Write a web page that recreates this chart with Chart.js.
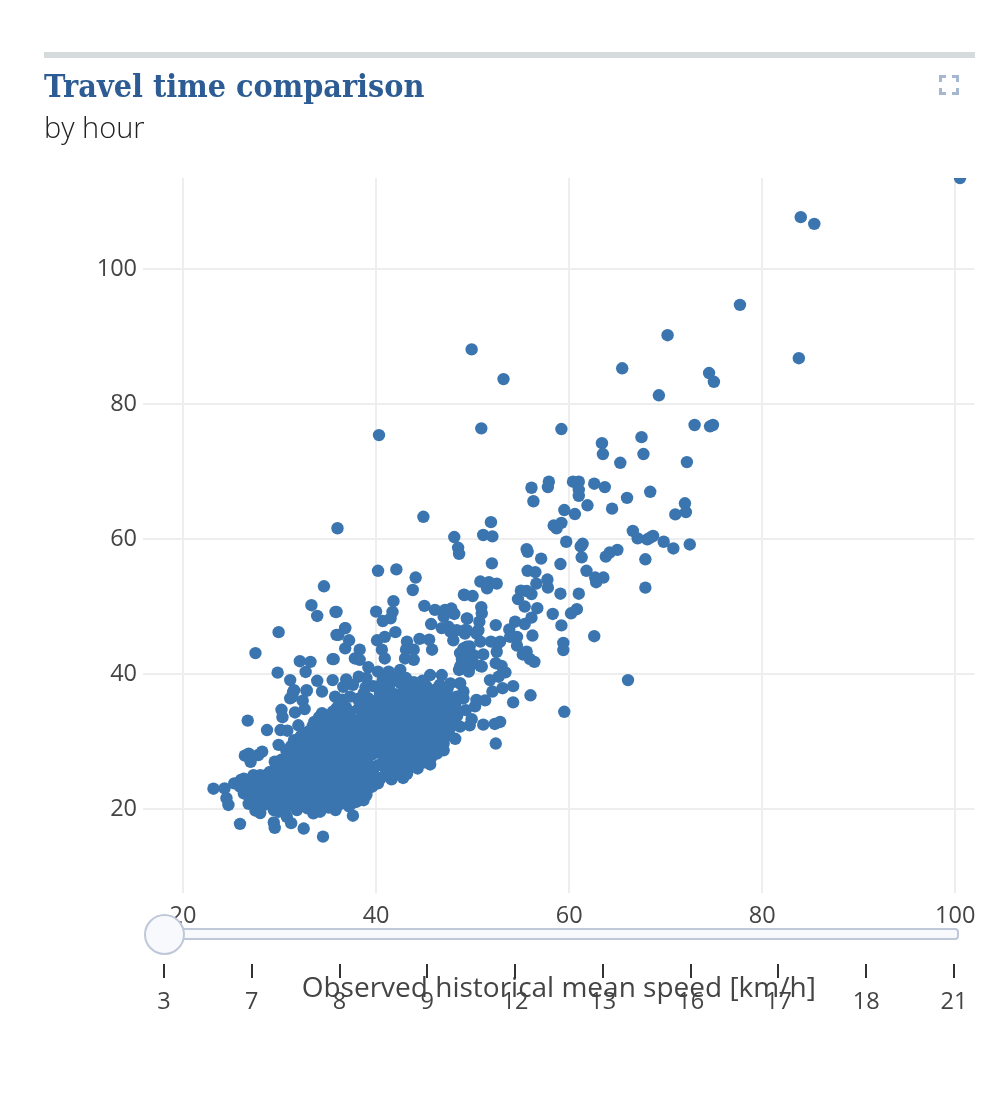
<!DOCTYPE html>
<html><head><meta charset="utf-8">
<script src="https://cdn.jsdelivr.net/npm/chart.js@4"></script>
<style>
html,body{margin:0;padding:0;background:#fff;width:1004px;height:1104px;overflow:hidden;position:relative}
#chart{position:absolute;left:0;top:0}
.topbar{position:absolute;left:44px;top:52px;width:931px;height:6px;background:#d5dadc}
.title{position:absolute;left:44px;top:67px;font:bold 32px "DejaVu Serif",serif;font-stretch:condensed;color:#2c5c93;white-space:nowrap}
.sub{position:absolute;left:44px;top:107px;font:300 29px "Open Sans",sans-serif;color:#222;white-space:nowrap}
.rail{position:absolute;left:160px;top:928px;width:799px;height:12px;box-sizing:border-box;background:#f8f9fc;border:2px solid #bec8d9;border-radius:4px}
.handle{position:absolute;left:143.5px;top:913.5px;width:41px;height:41px;box-sizing:border-box;background:#f8f9fc;border:2px solid #bec8d9;border-radius:50%}
.tk{position:absolute;top:964px;width:2px;height:14px;background:#333}
.tl{position:absolute;top:984px;width:60px;text-align:center;font:23.5px "Open Sans",sans-serif;color:#444}
svg{position:absolute;left:939px;top:75px}
</style></head><body>
<canvas id="chart" width="1004" height="1104"></canvas>
<div class="topbar"></div>
<div class="title">Travel time comparison</div>
<div class="sub">by hour</div>
<svg width="20" height="20" fill="none" stroke="#a6b8d0" stroke-width="3"><path d="M1.5 7V1.5H7M13 1.5H18.5V7M18.5 13V18.5H13M7 18.5H1.5V13"/></svg>
<div class="rail"></div>
<div id="slider"></div>
<div class="handle"></div>
<script>
const xAxisTitle = "Observed historical mean speed [km/h]";
const xTicks = [20,40,60,80,100];
const yTicks = [20,40,60,80,100];
const sliderHours = ["3","7","8","9","12","13","16","17","18","21"];

const pointsUpper = [[100.5,113.5],[84.0,107.7],[85.4,106.7],[77.7,94.7],[70.2,90.2],[65.5,85.3],[53.2,83.7],[49.9,88.1],[83.8,86.8],[74.5,84.6],[75.0,83.3],[69.3,81.3],[40.3,75.4],[50.9,76.4],[59.2,76.3],[63.4,74.2],[63.5,72.6],[67.5,75.1],[67.7,72.6],[65.3,71.3],[73.0,76.9],[74.6,76.7],[74.9,76.9],[72.2,71.4],
[56.1,67.6],[57.9,68.5],[57.8,67.7],[56.3,65.6],[60.4,68.5],[61.0,68.5],[61.0,67.3],[61.0,66.4],[62.6,68.2],[63.7,67.7],[68.4,67.0],[66.0,66.1],[64.45,64.5],[61.9,65.0],[60.6,63.7],[59.5,64.3],[59.2,62.4],[58.7,61.6],[58.4,62.0],[51.9,62.5],[51.1,60.6],[52.05,60.4],[72.0,65.3],[72.1,64.0],[71.0,63.65],[66.6,61.2],[67.1,60.1],[68.1,59.95],[68.7,60.45],[68.4,60.2],[69.8,59.6],[70.8,58.6],[72.5,59.2],[67.9,57.0],[67.9,52.8],[59.7,59.6],[61.4,59.3],[61.2,58.9],[61.3,57.3],[65.0,58.4],[64.2,58.0],[63.8,57.4],[55.6,58.5],[55.7,58.1],[57.1,57.1],[59.1,56.3],[52.0,56.4],[55.7,55.3],[56.5,55.1],[57.75,54.0],[56.6,53.4],[57.8,52.8],[61.8,55.3],[62.7,54.3],[63.55,54.3],[62.8,53.6],[59.1,51.9],[61.0,51.9],[50.8,53.7],[51.7,53.6],[51.5,52.7],[52.5,53.4],[49.15,51.7],[50.0,51.55],[55.0,52.35],[55.6,52.3],[56.1,51.85],[54.7,51.1],[55.4,50.0],[56.7,49.75],[50.9,49.9],[60.8,49.6],[60.2,49.0],[58.3,48.9],[56.1,48.35],[55.4,47.4],[54.4,47.75],[53.8,46.6],[59.2,47.2],[52.4,47.25],[56.2,45.7],[54.6,45.5],[53.9,45.5],[54.6,44.2],[62.6,45.6],[59.4,44.6],[59.4,43.55],[55.6,43.3],[55.2,42.9],[55.95,42.2],[56.4,41.8],[66.1,39.1],[59.5,34.4],[48.1,60.3],[48.5,58.7],[48.6,57.8],[44.9,63.3],[36.0,61.6]];

const pointsMiddle = [[52.6,44.5],[51.9,44.8],[52.5,43.3],[51.1,42.9],[52.4,41.6],[53.0,41.2],[53.4,40.25],[50.8,41.2],[52.7,39.6],[51.8,39.1],[54.2,38.2],[53.1,37.9],[52.05,37.4],[56.0,36.85],[54.2,35.8],[51.3,36.1],[50.4,36.15],[50.25,35.2],[49.3,34.65],[49.9,33.3],[49.7,32.4],[51.1,32.5],[52.3,32.6],[52.85,32.9],[52.4,29.7],[50.95,49.0],[50.7,47.75],[50.6,46.5],[49.45,48.2],[49.4,46.5],[49.2,46.0],[50.4,46.0],[50.8,44.8],[49.7,44.1],[49.05,43.8],[49.9,42.6],[49.2,42.1],[49.6,40.6],[48.7,41.1],[48.7,38.6],[49.05,37.4],[48.9,36.4],
[40.2,55.3],[42.1,55.5],[44.1,54.3],[43.8,52.45],[35.8,49.2],[40.0,49.25],[41.8,50.8],[41.7,49.2],[40.7,47.85],[41.5,48.25],[45.0,50.1],[46.1,49.5],[47.15,49.5],[47.8,49.7],[48.1,48.9],[47.0,48.5],[45.7,47.4],[46.8,46.8],[47.5,47.0],[47.7,46.3],[49.4,48.25],[49.2,46.5],[48.35,46.5],[49.1,51.75],[42.0,46.2],[36.8,46.8],[35.9,45.8],[37.2,45.0],[36.8,43.8],[38.3,43.6],[37.8,42.3],[38.3,42.1],[35.6,42.2],[40.1,45.0],[40.9,45.5],[43.2,44.8],[44.5,45.2],[45.5,45.1],[45.8,43.6],[40.6,43.6],[40.9,42.3],[43.1,43.6],[43.9,43.6],[43.0,42.3],[43.9,42.1],[48.0,45.0],[49.4,44.05],[48.7,43.1],[48.9,42.1],[50.1,42.8],[50.1,41.6],[50.95,41.1],[48.6,40.6],[49.6,40.35],[52.85,44.8],[39.2,41.0],[40.2,40.35],[41.3,40.35],[42.5,40.6],[47.7,38.6],[48.7,38.6],[48.35,36.65],[49.05,36.4],[46.8,39.85],[45.6,39.85],[35.5,39.1],[36.9,39.2],[38.2,39.6],[36.6,38.1],[39.7,38.2],[41.4,38.4],[35.75,36.65],[37.3,36.65],[38.7,37.1],[40.4,37.1],[35.9,34.9],[37.3,34.4],[38.5,35.65],[39.9,35.65],[41.3,36.2],[42.7,37.1],[43.5,38.6],[44.55,38.4],[45.6,37.6],[46.6,38.4],[47.15,35.9],[47.5,34.9],[48.0,33.4],[47.3,31.5],[47.0,29.7],[48.2,30.4],
[29.9,46.2],[27.5,43.1],[29.8,40.2],[32.1,41.9],[33.2,41.8],[33.3,50.2],[34.6,53.0],[35.9,49.2],[33.9,48.6],[36.8,46.8],[32.7,40.3],[31.5,37.6],[31.3,36.6],[32.8,37.6],[36.1,45.8],[35.5,42.2],[33.9,39.0],[34.4,37.4]];

const pointsEdge = [[26.7,33.1],[28.7,31.7],[30.1,31.7],[30.8,31.6],[31.1,39.1],[31.4,37.3],[31.1,36.4],[32.8,37.5],[32.4,36.05],[30.2,34.7],[30.3,33.6],[31.6,34.3],[32.6,34.8],[31.95,32.4],[26.4,27.9],[26.8,28.2],[27.0,27.0],[27.8,28.0],[28.2,28.5],[29.9,29.5],[31.1,28.0],[29.5,27.0],[23.15,23.0],[24.3,23.05],[25.3,23.8],[24.5,21.6],[24.7,20.6],[25.9,17.8],[26.8,20.75],[27.5,19.75],[28.0,19.4],[29.4,18.0],[29.5,17.2],[31.2,17.9],[32.5,17.1],[34.5,15.9],[37.6,19.0],[33.5,19.35],[34.2,19.6],[35.8,19.85],[29.9,19.6],[30.75,18.85],[38.0,21.1],[38.7,21.3],[39.0,22.1],[40.2,23.8],[40.8,26.3],[26.3,24.5],[25.9,23.3],[26.3,22.3],[27.3,25.0],[28.0,25.0],[29.0,25.5],[29.4,19.85],[31.8,19.85]];

const pointsCore = [[29.5,20.3],[30.6,20.0],[31.8,20.4],[32.9,20.1],[34.0,20.5],[35.1,20.2],[36.2,20.7],[37.2,20.4],[28.4,20.6],[27.3,20.9],
[26.9,21.7],[28.0,21.4],[29.2,21.6],[30.3,21.3],[31.4,21.7],[32.5,21.4],[33.6,21.6],[34.8,21.3],[35.9,21.7],[37.0,21.4],[38.1,21.7],
[26.6,23.1],[27.7,22.8],[28.8,23.1],[29.9,22.8],[31.0,23.2],[32.1,22.9],[33.2,23.1],[34.3,22.8],[35.4,23.2],[36.5,22.9],[37.6,23.1],[38.7,22.9],[39.6,23.3],
[26.0,24.3],[27.1,24.5],[28.3,24.2],[29.4,24.5],[30.5,24.2],[31.6,24.6],[32.7,24.3],[33.8,24.5],[34.9,24.2],[36.0,24.6],[37.1,24.3],[38.2,24.5],[39.3,24.3],[40.5,24.6],[41.6,24.4],[42.8,24.6],
[29.8,25.9],[30.9,25.6],[32.0,25.9],[33.1,25.7],[34.2,26.0],[35.3,25.7],[36.4,25.9],[37.5,25.6],[38.6,26.0],[39.7,25.8],[42.0,25.9],[43.2,25.7],[44.3,26.0],[45.6,26.6],
[30.2,27.3],[31.3,27.0],[32.4,27.3],[33.5,27.1],[34.6,27.4],[35.7,27.1],[36.8,27.3],[37.9,27.0],[39.0,27.4],[41.2,27.2],[42.3,27.4],[43.4,27.1],[44.5,27.4],[45.7,27.6],
[30.7,28.7],[31.8,28.5],[32.9,28.8],[34.0,28.5],[35.1,28.8],[36.2,28.5],[37.3,28.7],[38.4,28.5],[39.5,28.8],[40.7,28.6],[41.8,28.8],[42.9,28.5],[44.0,28.8],[45.1,28.6],[46.2,28.9],[47.0,28.7],
[31.5,30.2],[32.6,30.0],[33.7,30.2],[34.8,29.9],[35.9,30.2],[37.0,30.0],[38.1,30.3],[39.2,30.0],[40.3,30.2],[41.4,29.9],[42.5,30.3],[43.6,30.0],[44.7,30.2],[45.8,29.9],[46.9,30.3],
[32.9,31.4],[34.0,31.6],[35.1,31.3],[36.2,31.6],[37.3,31.3],[38.4,31.6],[39.5,31.4],[40.6,31.7],[41.7,31.4],[42.8,31.6],[43.9,31.3],[45.0,31.6],[46.1,31.4],[47.2,31.7],
[33.6,32.9],[34.7,32.7],[35.8,33.0],[36.9,32.7],[38.0,33.0],[39.1,32.8],[40.2,33.0],[41.3,32.7],[42.4,33.0],[43.5,32.8],[44.6,33.0],[45.7,32.7],[46.8,33.0],[47.9,32.8],
[34.4,34.2],[35.5,34.4],[36.6,34.1],[38.8,34.2],[39.9,34.3],[41.0,34.0],[42.1,34.4],[43.2,34.1],[44.3,34.4],[45.4,34.1],[46.5,34.4],[47.6,34.2],
[40.8,35.6],[41.9,35.3],[43.0,35.6],[44.1,35.4],[45.2,35.7],[46.3,35.4],
[42.0,37.0],[43.8,36.9],[44.9,37.0],[46.0,36.8],[47.2,37.1],[42.5,38.7],[43.9,38.8]];

const pointsDense = [[28.9,20.9],[30.0,20.7],[31.2,21.0],[32.3,20.8],[33.4,21.0],[34.5,20.8],[35.6,21.0],[36.7,20.9],[37.8,21.0],
[27.4,22.2],[28.6,22.3],[29.7,22.1],[30.8,22.4],[31.9,22.2],[33.0,22.4],[34.1,22.1],[35.2,22.4],[36.3,22.2],[37.4,22.4],[38.3,22.2],
[27.2,23.8],[28.3,23.6],[29.4,23.8],[30.5,23.6],[31.6,23.9],[32.7,23.6],[33.8,23.8],[34.9,23.5],[36.0,23.9],[37.1,23.6],[38.2,23.8],[39.3,23.7],
[28.7,25.1],[29.9,25.2],[31.0,24.9],[32.1,25.2],[33.2,25.0],[34.3,25.2],[35.4,24.9],[36.5,25.3],[37.6,25.0],[38.7,25.2],[39.8,25.0],[41.0,25.2],[42.1,25.1],[43.2,25.2],
[30.4,26.6],[31.5,26.4],[32.6,26.6],[33.7,26.4],[34.8,26.7],[35.9,26.4],[37.0,26.6],[38.1,26.3],[39.2,26.7],[40.2,26.5],[41.6,26.6],[42.8,26.4],[43.9,26.7],[45.0,26.9],
[30.8,27.9],[31.9,27.8],[33.0,28.0],[34.1,27.8],[35.2,28.1],[36.3,27.8],[37.4,28.0],[38.5,27.8],[39.6,28.1],[40.7,27.9],[41.8,28.1],[42.9,27.8],[44.0,28.1],[45.1,27.9],[46.3,28.2],
[31.2,29.3],[32.3,29.4],[33.4,29.2],[34.5,29.5],[35.6,29.2],[36.7,29.4],[37.8,29.3],[38.9,29.5],[40.0,29.3],[41.1,29.5],[42.2,29.2],[43.3,29.5],[44.4,29.3],[45.5,29.5],[46.4,29.4],
[32.2,30.8],[33.3,30.7],[34.4,30.9],[35.5,30.6],[36.6,30.9],[37.7,30.7],[38.8,31.0],[39.9,30.8],[41.0,31.0],[42.1,30.7],[43.2,31.0],[44.3,30.7],[45.4,30.9],[46.5,30.7],[47.6,30.9],
[33.4,32.2],[34.5,32.0],[35.6,32.3],[36.7,32.0],[37.8,32.3],[38.9,32.1],[40.0,32.3],[41.1,32.0],[42.2,32.3],[43.3,32.1],[44.4,32.3],[45.5,32.0],[46.6,32.3],[47.7,32.1],[48.7,32.2],
[34.1,33.6],[35.2,33.4],[36.3,33.6],[37.4,33.4],[38.5,33.6],[39.6,33.5],[40.7,33.7],[41.8,33.4],[42.9,33.7],[44.0,33.5],[45.1,33.7],[46.2,33.4],[47.3,33.7],[48.4,33.8],
[36.1,35.3],[36.9,35.0],[38.2,34.9],[39.3,35.0],[40.4,34.9],[41.5,35.0],[42.6,34.8],[43.7,35.0],[44.8,34.9],[45.9,35.0],[47.0,34.6],[48.2,35.2],
[36.5,36.2],[38.1,36.3],[39.2,36.4],[40.2,36.2],[41.1,36.9],[42.3,36.3],[43.4,36.2],[44.5,36.3],[45.6,36.2],[46.7,36.4],[47.8,36.2],
[42.9,37.7],[44.1,37.6],[45.2,38.2],[46.2,37.7],[47.4,37.8],[44.8,39.0],[43.1,39.4],[41.9,39.4],[40.7,39.2],[39.0,39.4],[37.6,38.4],[38.9,38.0],[40.4,38.3]];

const allPoints = [...pointsUpper,...pointsMiddle,...pointsEdge,...pointsCore,...pointsDense].map(p=>({x:p[0],y:p[1]}));

new Chart(document.getElementById('chart'),{
  type:'scatter',
  data:{datasets:[{label:'by hour',data:allPoints,backgroundColor:'#3b75af',borderWidth:0,pointRadius:6.2,pointHoverRadius:6.2}]},
  options:{
    responsive:false,animation:false,devicePixelRatio:1,
    layout:{padding:{left:0,top:178,right:29.5,bottom:0}},
    plugins:{legend:{display:false},tooltip:{enabled:false}},
    scales:{
      x:{type:'linear',min:15.85,max:102,
        afterBuildTicks(s){s.ticks=xTicks.map(v=>({value:v}));},
        afterFit(s){s.height=211;},
        grid:{color:'#eeeeee',lineWidth:2,drawTicks:false},border:{display:false},
        ticks:{autoSkip:false,maxRotation:0,padding:9,color:'#444',font:{family:'"Open Sans"',size:23.5}},
        title:{display:true,text:xAxisTitle,color:'#444',font:{family:'"Open Sans"',size:28},padding:{top:0,bottom:98.5}}},
      y:{type:'linear',min:7.55,max:113.5,
        afterBuildTicks(s){s.ticks=yTicks.map(v=>({value:v}));},
        afterFit(s){s.width=143;},
        grid:{color:'#eeeeee',lineWidth:2,drawTicks:false},border:{display:false},
        ticks:{autoSkip:false,padding:6,color:'#444',font:{family:'"Open Sans"',size:23.5}}}
    }
  }
});

const slider=document.getElementById('slider');
sliderHours.forEach((h,i)=>{
  const c=164+i*(954-164)/(sliderHours.length-1);
  const t=document.createElement('div');t.className='tk';t.style.left=(c-1)+'px';slider.appendChild(t);
  const l=document.createElement('div');l.className='tl';l.style.left=(c-30)+'px';l.textContent=h;slider.appendChild(l);
});
</script>
</body></html>
